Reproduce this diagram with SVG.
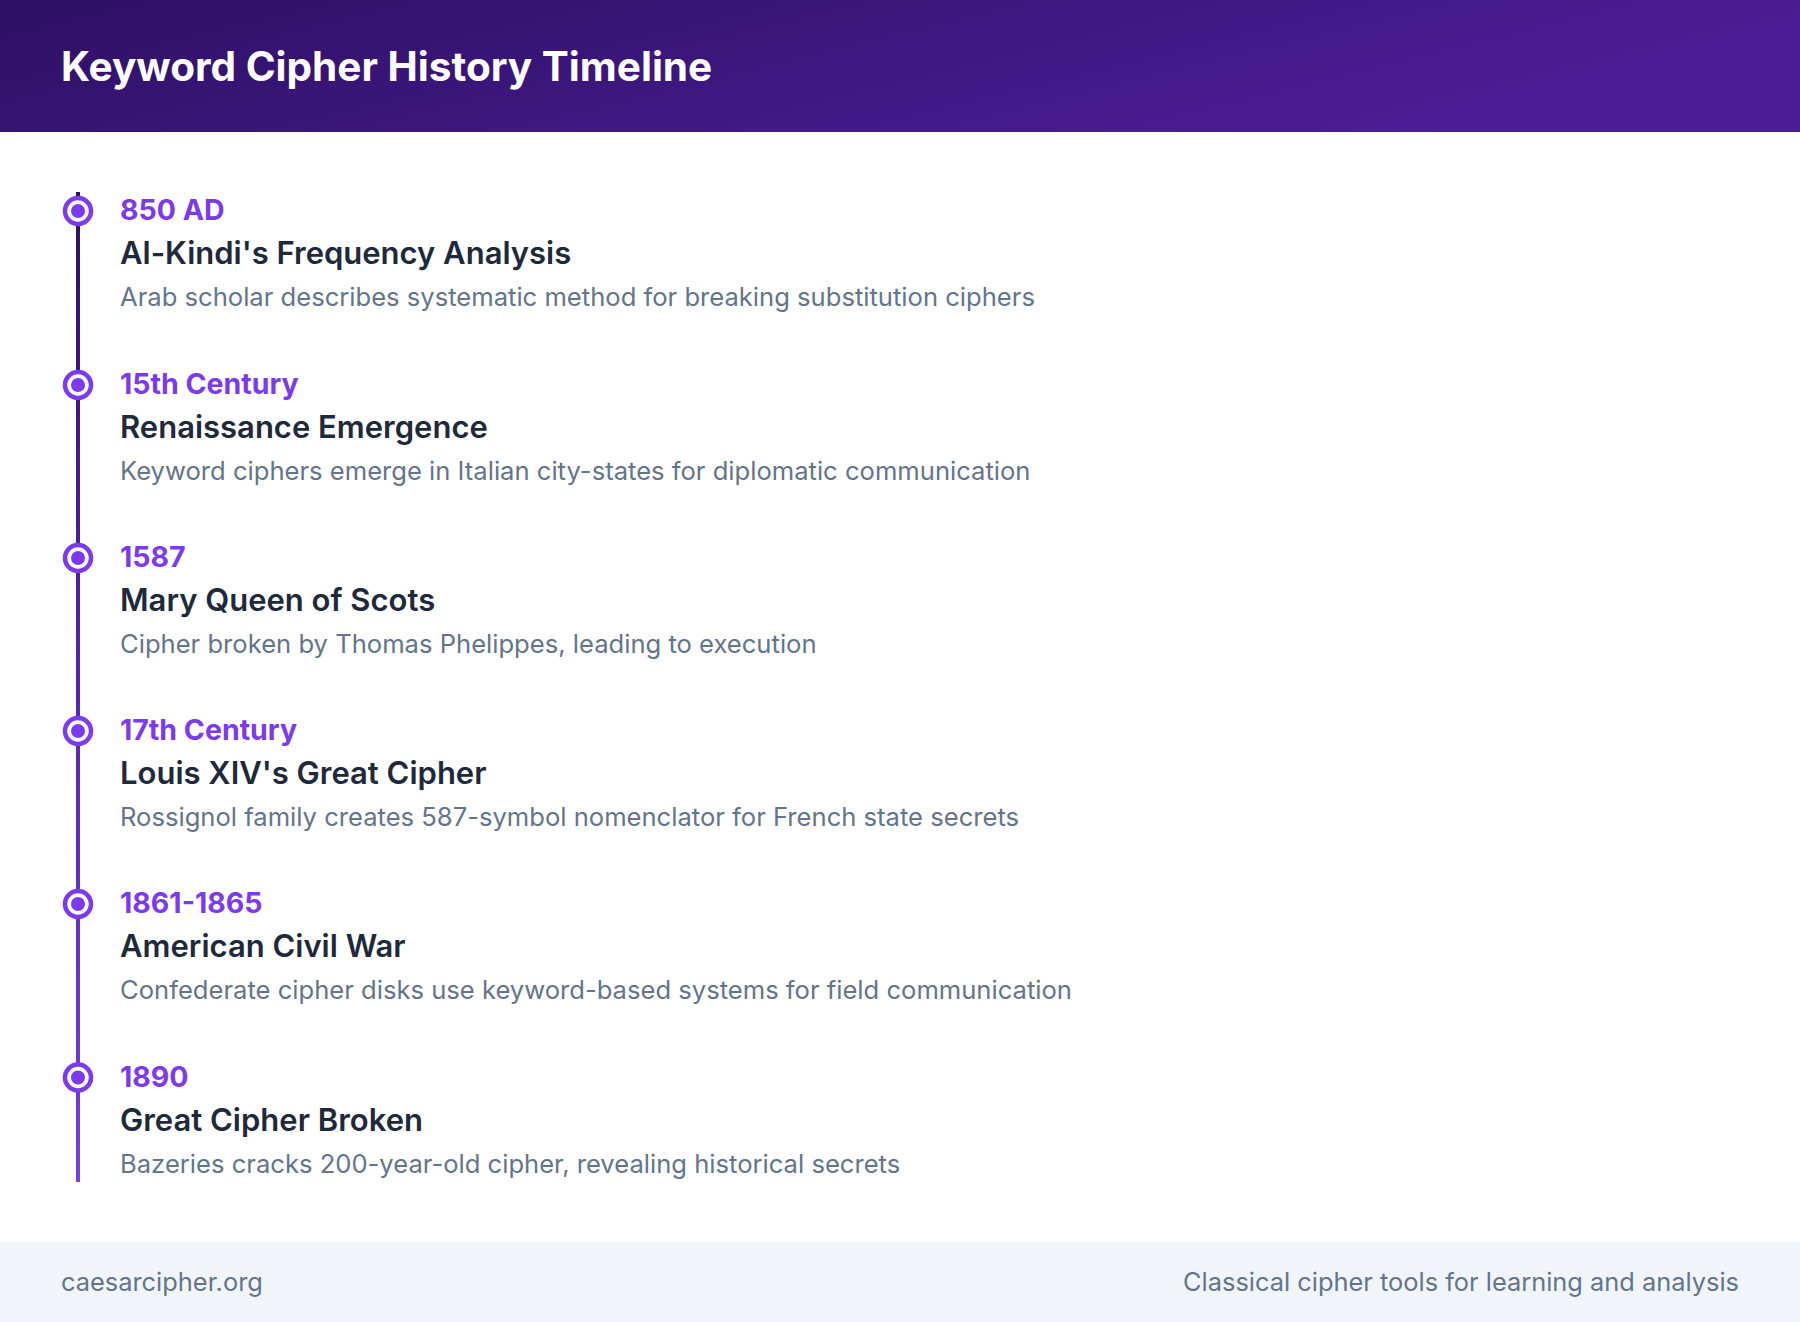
<svg xmlns="http://www.w3.org/2000/svg" width="1800" height="1322" viewBox="0 0 1800 1322">
<defs>
<linearGradient id="hdr" x1="0" y1="0" x2="1" y2="0.3">
<stop offset="0" stop-color="#2e1065"/>
<stop offset="1" stop-color="#4c1d95"/>
</linearGradient>
<linearGradient id="line" x1="0" y1="0" x2="0" y2="1">
<stop offset="0" stop-color="#2e1065"/>
<stop offset="0.5" stop-color="#5b21b6"/>
<stop offset="1" stop-color="#7c3aed"/>
</linearGradient>
<style>
.title{font-family:Inter,"Liberation Sans",sans-serif;font-weight:700;font-size:40.5px;fill:#ffffff}
.date{font-family:Inter,"Liberation Sans",sans-serif;font-weight:700;font-size:28.5px;fill:#7c3aed}
.head{font-family:Inter,"Liberation Sans",sans-serif;font-weight:600;font-size:31px;fill:#1e293b}
.desc{font-family:Inter,"Liberation Sans",sans-serif;font-weight:400;font-size:25.6px;fill:#64748b}
.foot{font-family:Inter,"Liberation Sans",sans-serif;font-weight:400;font-size:25.4px;fill:#64748b}
.ring{fill:#ffffff;stroke:#7c3aed;stroke-width:4.5}
.dot{fill:#7c3aed}
</style>
</defs>
<rect width="1800" height="1322" fill="#ffffff"/>
<g id="header">
<rect x="0" y="0" width="1800" height="132" fill="url(#hdr)"/>
<text class="title" x="61" y="81">Keyword Cipher History Timeline</text>
</g>
<g id="connectors">
<rect x="76" y="192" width="4" height="990" fill="url(#line)"/>
</g>
<g id="event1">
<circle class="ring" cx="78" cy="211" r="13"/><circle class="dot" cx="78" cy="211" r="7"/>
<text class="date" x="120" y="220">850 AD</text>
<text class="head" x="120" y="263.5">Al-Kindi's Frequency Analysis</text>
<text class="desc" x="120" y="306">Arab scholar describes systematic method for breaking substitution ciphers</text>
</g>
<g id="event2">
<circle class="ring" cx="78" cy="385" r="13"/><circle class="dot" cx="78" cy="385" r="7"/>
<text class="date" x="120" y="394">15th Century</text>
<text class="head" x="120" y="437.5">Renaissance Emergence</text>
<text class="desc" x="120" y="480">Keyword ciphers emerge in Italian city-states for diplomatic communication</text>
</g>
<g id="event3">
<circle class="ring" cx="78" cy="558" r="13"/><circle class="dot" cx="78" cy="558" r="7"/>
<text class="date" x="120" y="567">1587</text>
<text class="head" x="120" y="610.5">Mary Queen of Scots</text>
<text class="desc" x="120" y="653">Cipher broken by Thomas Phelippes, leading to execution</text>
</g>
<g id="event4">
<circle class="ring" cx="78" cy="731" r="13"/><circle class="dot" cx="78" cy="731" r="7"/>
<text class="date" x="120" y="740">17th Century</text>
<text class="head" x="120" y="783.5">Louis XIV's Great Cipher</text>
<text class="desc" x="120" y="826">Rossignol family creates 587-symbol nomenclator for French state secrets</text>
</g>
<g id="event5">
<circle class="ring" cx="78" cy="904" r="13"/><circle class="dot" cx="78" cy="904" r="7"/>
<text class="date" x="120" y="913">1861-1865</text>
<text class="head" x="120" y="956.5">American Civil War</text>
<text class="desc" x="120" y="999">Confederate cipher disks use keyword-based systems for field communication</text>
</g>
<g id="event6">
<circle class="ring" cx="78" cy="1077.5" r="13"/><circle class="dot" cx="78" cy="1077.5" r="7"/>
<text class="date" x="120" y="1087">1890</text>
<text class="head" x="120" y="1130.5">Great Cipher Broken</text>
<text class="desc" x="120" y="1173">Bazeries cracks 200-year-old cipher, revealing historical secrets</text>
</g>
<g id="footer">
<rect x="0" y="1242" width="1800" height="80" fill="#f1f5f9"/>
<text class="foot" x="61" y="1291">caesarcipher.org</text>
<text class="foot" x="1739" y="1291" text-anchor="end">Classical cipher tools for learning and analysis</text>
</g>
</svg>
